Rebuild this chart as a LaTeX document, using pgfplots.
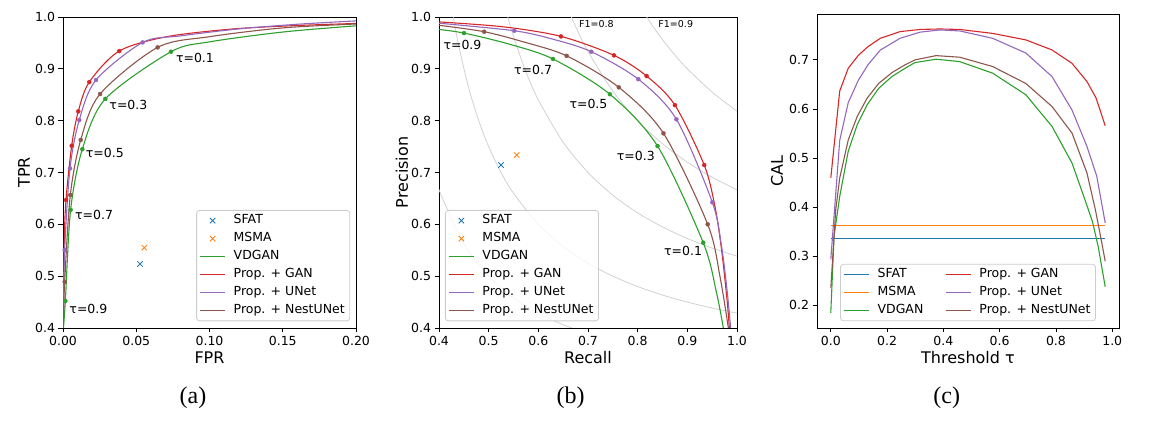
\documentclass[border=0pt]{standalone}
\usepackage{pgfplots}
\pgfplotsset{compat=1.18}
\usepackage{fontspec}
\setmainfont{DejaVu Sans}
\newfontfamily\capfont{Liberation Serif}
\definecolor{tabblue}{HTML}{1F77B4}
\definecolor{taborange}{HTML}{FF7F0E}
\definecolor{tabgreen}{HTML}{2CA02C}
\definecolor{tabred}{HTML}{D62728}
\definecolor{tabpurple}{HTML}{9467BD}
\definecolor{tabbrown}{HTML}{8C564B}
\newcommand{\tk}{\fontsize{12.5}{15}\selectfont}
\newcommand{\lb}{\fontsize{16}{19}\selectfont}
\pgfplotsset{
  myaxis/.style={
    scale only axis, anchor=south west,
    axis line style={line width=0.9pt},
    tick align=outside, xtick pos=lower, ytick pos=left,
    major tick length=4.5pt,
    tick style={black, line width=0.8pt},
    ticklabel style={font=\tk},
    /pgf/number format/assume math mode=true,
    every axis x label/.style={at={(rel axis cs:0.5,0)}, anchor=center, yshift=-30pt, font=\lb},
    legend cell align=left,
    legend style={font=\tk, draw=black!20, line width=0.8pt, rounded corners=3pt,
      fill=white, fill opacity=0.8, text opacity=1, draw opacity=1,
      inner xsep=3pt, inner ysep=2pt, row sep=1.5pt, yshift=0.5pt,
      nodes={inner sep=2pt, text height=9.5pt, text depth=3pt},
      /tikz/every odd column/.append style={column sep=6pt}},
    legend image code/.code={\draw[mark repeat=2,mark phase=2] plot coordinates {(0pt,0pt)(12.5pt,0pt)(25pt,0pt)};},
  },
  ylab/.style={every axis y label/.style={at={(rel axis cs:0,0.5)}, anchor=center, xshift=-#1, rotate=90, font=\lb}},
  curve/.style={line width=1.1pt, mark=none},
  dots/.style={only marks, mark=*, mark size=2pt, forget plot},
  crs/.style={only marks, mark=x, mark size=3.8pt, line width=0.8pt},
  iso/.style={black!18, line width=0.8pt, smooth, forget plot},
}
\begin{document}
\begin{tikzpicture}
\path[use as bounding box] (0,0) rectangle (1149pt,422pt);
% ---------------- (a) ROC ----------------
\begin{axis}[myaxis, ylab=39pt, at={(63pt,94pt)}, width=293pt, height=311pt,
  xmin=0, xmax=0.2, ymin=0.4, ymax=1.0,
  xtick={0,0.05,0.1,0.15,0.2}, ytick={0.4,0.5,0.6,0.7,0.8,0.9,1.0},
  xticklabel style={/pgf/number format/.cd, fixed, fixed zerofill, precision=2},
  yticklabel style={/pgf/number format/.cd, fixed, fixed zerofill, precision=1},
  xlabel={FPR}, ylabel={TPR},
  legend style={at={(0.98,0.02)}, anchor=south east}]
\addplot[crs, tabblue] coordinates {(0.0526,0.5235)}; \addlegendentry{SFAT}
\addplot[crs, taborange] coordinates {(0.0555,0.555)}; \addlegendentry{MSMA}
\addplot[curve, tabgreen, smooth] coordinates {(0.0003,0.40) (0.0016,0.452) (0.0052,0.628) (0.0132,0.745) (0.0289,0.842) (0.0737,0.933) (0.1,0.952) (0.15,0.971) (0.2,0.983)}; \addlegendentry{VDGAN}
\addplot[curve, tabred, smooth] coordinates {(0.0002,0.40) (0.0008,0.56) (0.00205,0.647) (0.00594,0.7517) (0.01044,0.818) (0.01795,0.8745) (0.0384,0.9343) (0.0708,0.962) (0.1162,0.977) (0.1618,0.9838) (0.2,0.9875)}; \addlegendentry{Prop. + GAN}
\addplot[curve, tabpurple, smooth] coordinates {(0.0002,0.40) (0.00114,0.5505) (0.00478,0.708) (0.0111,0.8012) (0.0225,0.8784) (0.0544,0.951) (0.08,0.9635) (0.12,0.977) (0.16,0.986) (0.2,0.9925)}; \addlegendentry{Prop. + UNet}
\addplot[curve, tabbrown, smooth] coordinates {(0.0002,0.40) (0.00114,0.489) (0.005,0.6566) (0.0121,0.7627) (0.0253,0.8514) (0.0646,0.9414) (0.1,0.962) (0.15,0.979) (0.2,0.9865)}; \addlegendentry{Prop. + NestUNet}
\addplot[dots, tabgreen] coordinates {(0.0016,0.452) (0.0052,0.628) (0.0132,0.745) (0.0289,0.842) (0.0737,0.933)};
\addplot[dots, tabred] coordinates {(0.00205,0.647) (0.00594,0.7517) (0.01044,0.818) (0.01795,0.8745) (0.0384,0.9343)};
\addplot[dots, tabpurple] coordinates {(0.00114,0.5505) (0.00478,0.708) (0.0111,0.8012) (0.0225,0.8784) (0.0544,0.951)};
\addplot[dots, tabbrown] coordinates {(0.00114,0.489) (0.005,0.6566) (0.0121,0.7627) (0.0253,0.8514) (0.0646,0.9414)};
\node[font=\tk, anchor=west, inner sep=0pt] at (axis cs:0.0770,0.9212) {τ=0.1};
\node[font=\tk, anchor=west, inner sep=0pt] at (axis cs:0.0316,0.8302) {τ=0.3};
\node[font=\tk, anchor=west, inner sep=0pt] at (axis cs:0.0155,0.738) {τ=0.5};
\node[font=\tk, anchor=west, inner sep=0pt] at (axis cs:0.0082,0.618) {τ=0.7};
\node[font=\tk, anchor=west, inner sep=0pt] at (axis cs:0.0043,0.4367) {τ=0.9};
\end{axis}
% ---------------- (b) PR ----------------
\begin{axis}[myaxis, ylab=37pt, at={(439pt,94pt)}, width=298pt, height=311pt,
  xmin=0.4, xmax=1.0, ymin=0.4, ymax=1.0,
  xtick={0.4,0.5,0.6,0.7,0.8,0.9,1.0}, ytick={0.4,0.5,0.6,0.7,0.8,0.9,1.0},
  xticklabel style={/pgf/number format/.cd, fixed, fixed zerofill, precision=1},
  yticklabel style={/pgf/number format/.cd, fixed, fixed zerofill, precision=1},
  xlabel={Recall}, ylabel={Precision},
  legend style={at={(0.02,0.02)}, anchor=south west}]
\addplot[iso] coordinates {(0.38,0.7308) (0.4,0.6667) (0.45,0.5625) (0.5,0.5) (0.55,0.4583) (0.6,0.4286) (0.65,0.40625) (0.7,0.3889)};
\addplot[iso] coordinates {(0.4286,1.0) (0.44,0.9429) (0.46,0.8625) (0.48,0.8) (0.5,0.75) (0.525,0.7) (0.55,0.66) (0.6,0.6) (0.65,0.5571) (0.7,0.525) (0.75,0.5) (0.8,0.48) (0.85,0.4636) (0.9,0.45) (0.95,0.4385) (1.0,0.4286)};
\addplot[iso] coordinates {(0.5385,1.0) (0.55,0.9625) (0.575,0.8944) (0.6,0.84) (0.65,0.7583) (0.7,0.7) (0.75,0.6562) (0.8,0.6222) (0.85,0.595) (0.9,0.5727) (0.95,0.5542) (1.0,0.5385)};
\addplot[iso] coordinates {(0.6667,1.0) (0.68,0.9714) (0.7,0.9333) (0.75,0.8571) (0.8,0.8) (0.85,0.7556) (0.9,0.72) (0.95,0.6909) (1.0,0.6667)};
\addplot[iso] coordinates {(0.8182,1.0) (0.83,0.9829) (0.85,0.9563) (0.875,0.9265) (0.9,0.9) (0.95,0.855) (1.0,0.8182)};
\addplot[crs, tabblue] coordinates {(0.5248,0.7144)}; \addlegendentry{SFAT}
\addplot[crs, taborange] coordinates {(0.5564,0.7337)}; \addlegendentry{MSMA}
\addplot[curve, tabgreen, smooth] coordinates {(0.4,0.976) (0.4503,0.969) (0.54,0.948) (0.6295,0.919) (0.744,0.851) (0.840,0.751) (0.932,0.5646) (0.959,0.467) (0.9725,0.40)}; \addlegendentry{VDGAN}
\addplot[curve, tabred, smooth] coordinates {(0.4,0.9905) (0.53,0.981) (0.6456,0.9626) (0.7523,0.926) (0.818,0.886) (0.875,0.830) (0.934,0.7144) (0.9557,0.634) (0.969,0.5505) (0.98,0.454) (0.9846,0.40)}; \addlegendentry{Prop. + GAN}
\addplot[curve, tabpurple, smooth] coordinates {(0.4,0.988) (0.5516,0.9735) (0.63,0.957) (0.7067,0.933) (0.8013,0.880) (0.878,0.8026) (0.9503,0.6425) (0.969,0.557) (0.98,0.473) (0.9873,0.40)}; \addlegendentry{Prop. + UNet}
\addplot[curve, tabbrown, smooth] coordinates {(0.4,0.984) (0.491,0.9716) (0.57,0.952) (0.657,0.925) (0.762,0.8643) (0.852,0.7755) (0.941,0.6) (0.9658,0.499) (0.9826,0.40)}; \addlegendentry{Prop. + NestUNet}
\addplot[dots, tabgreen] coordinates {(0.4503,0.969) (0.6295,0.919) (0.744,0.851) (0.840,0.751) (0.932,0.5646)};
\addplot[dots, tabred] coordinates {(0.6456,0.9626) (0.7523,0.926) (0.818,0.886) (0.875,0.830) (0.934,0.7144)};
\addplot[dots, tabpurple] coordinates {(0.5516,0.9735) (0.7067,0.933) (0.8013,0.880) (0.878,0.8026) (0.9503,0.6425)};
\addplot[dots, tabbrown] coordinates {(0.491,0.9716) (0.657,0.925) (0.762,0.8643) (0.852,0.7755) (0.941,0.6)};
\node[font=\tk, anchor=west, inner sep=0pt] at (axis cs:0.4087,0.9465) {τ=0.9};
\node[font=\tk, anchor=west, inner sep=0pt] at (axis cs:0.551,0.8977) {τ=0.7};
\node[font=\tk, anchor=west, inner sep=0pt] at (axis cs:0.6624,0.832) {τ=0.5};
\node[font=\tk, anchor=west, inner sep=0pt] at (axis cs:0.7578,0.7318) {τ=0.3};
\node[font=\tk, anchor=west, inner sep=0pt] at (axis cs:0.853,0.548) {τ=0.1};
\node[font=\fontsize{9.5}{11}\selectfont, anchor=west, inner sep=0pt] at (axis cs:0.6819,0.9864) {F1=0.8};
\node[font=\fontsize{9.5}{11}\selectfont, anchor=west, inner sep=0pt] at (axis cs:0.8415,0.9864) {F1=0.9};
\end{axis}
% ---------------- (c) CAL ----------------
\begin{axis}[myaxis, ylab=40pt, at={(817pt,94pt)}, width=302pt, height=314pt,
  xmin=-0.049, xmax=1.024, ymin=0.154, ymax=0.7935,
  xtick={0,0.2,0.4,0.6,0.8,1.0}, ytick={0.2,0.3,0.4,0.5,0.6,0.7},
  xticklabel style={/pgf/number format/.cd, fixed, fixed zerofill, precision=1},
  yticklabel style={/pgf/number format/.cd, fixed, fixed zerofill, precision=1},
  xlabel={Threshold τ}, ylabel={CAL},
  legend columns=2,
  legend style={at={(0.5,0.02)}, anchor=south, /tikz/every even column/.append style={column sep=20pt}}]
\addplot[curve, tabblue] coordinates {(0,0.3355) (0.975,0.3355)}; \addlegendentry{SFAT}
\addplot[curve, tabred] coordinates {(0,0.4596) (0.0317,0.6366) (0.062,0.683) (0.0975,0.709) (0.132,0.727) (0.176,0.744) (0.246,0.7576) (0.317,0.762) (0.387,0.763) (0.458,0.762) (0.575,0.754) (0.693,0.7407) (0.786,0.7203) (0.857,0.693) (0.91,0.656) (0.942,0.623) (0.975,0.566)}; \addlegendentry{Prop. + GAN}
\addplot[curve, taborange] coordinates {(0,0.3626) (0.975,0.3626)}; \addlegendentry{MSMA}
\addplot[curve, tabpurple] coordinates {(0,0.2935) (0.0317,0.536) (0.062,0.613) (0.0975,0.658) (0.132,0.69) (0.176,0.72) (0.246,0.744) (0.317,0.7565) (0.387,0.761) (0.458,0.759) (0.575,0.744) (0.693,0.714) (0.786,0.666) (0.857,0.598) (0.91,0.524) (0.945,0.463) (0.975,0.368)}; \addlegendentry{Prop. + UNet}
\addplot[curve, tabgreen] coordinates {(0,0.185) (0.0116,0.341) (0.0317,0.422) (0.062,0.514) (0.094,0.568) (0.129,0.6085) (0.17,0.642) (0.217,0.666) (0.264,0.683) (0.299,0.6945) (0.374,0.7014) (0.458,0.6965) (0.575,0.673) (0.693,0.629) (0.786,0.5645) (0.857,0.49) (0.9,0.42) (0.93,0.37) (0.95,0.32) (0.975,0.238)}; \addlegendentry{VDGAN}
\addplot[curve, tabbrown] coordinates {(0,0.235) (0.0176,0.395) (0.0317,0.4596) (0.062,0.537) (0.094,0.585) (0.129,0.622) (0.17,0.652) (0.217,0.674) (0.264,0.69) (0.299,0.70) (0.374,0.7087) (0.458,0.7055) (0.575,0.6865) (0.693,0.652) (0.786,0.605) (0.857,0.551) (0.91,0.47) (0.94,0.395) (0.957,0.345) (0.975,0.29)}; \addlegendentry{Prop. + NestUNet}
\end{axis}
% captions
\node[font=\capfont\fontsize{24}{26}\selectfont] at (193pt,24pt) {(a)};
\node[font=\capfont\fontsize{24}{26}\selectfont] at (570.7pt,24pt) {(b)};
\node[font=\capfont\fontsize{24}{26}\selectfont] at (946.7pt,24pt) {(c)};
\end{tikzpicture}
\end{document}
